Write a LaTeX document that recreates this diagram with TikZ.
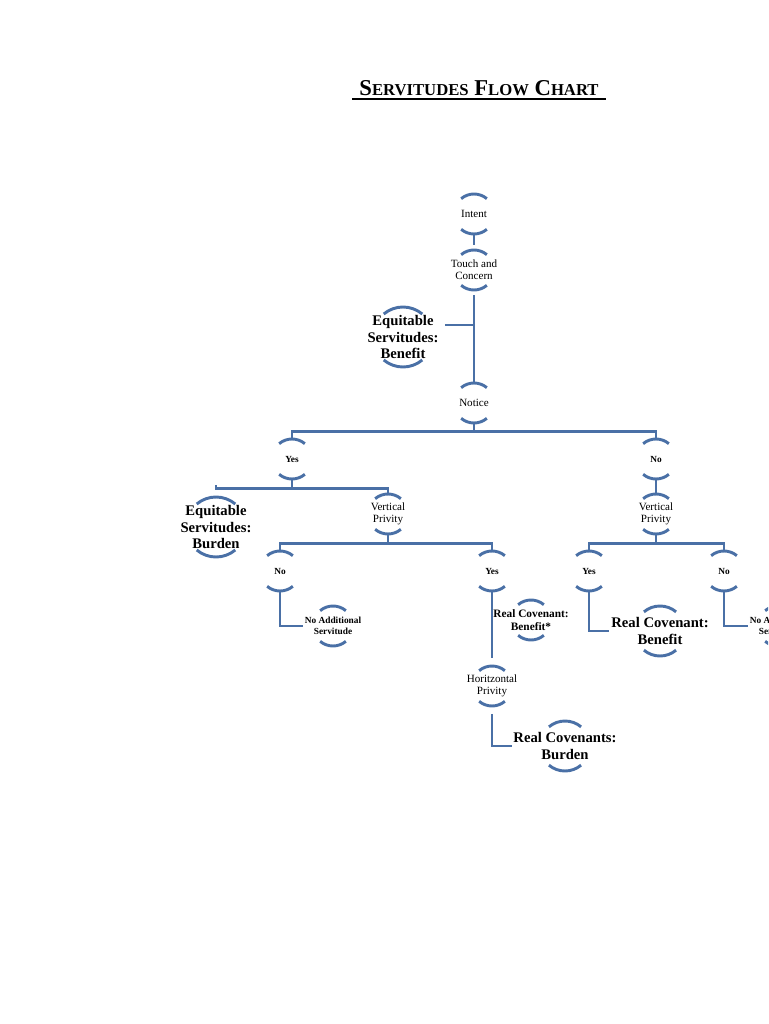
\documentclass[tikz,border=0pt]{standalone}
\usepackage{fontspec}
\setmainfont{Liberation Serif}
\definecolor{ln}{RGB}{74,112,166}
\newcommand{\arcnode}[5]{%
  \node[circle,minimum size=#3*2*0.75pt,inner sep=0pt,align=center,font=#5] (#1) at (#2) {#4};
  \draw[arcline] ($(#1.center)+(130:#3)$) arc[start angle=130,end angle=50,radius=#3];
  \draw[arcline] ($(#1.center)+(230:#3)$) arc[start angle=230,end angle=310,radius=#3];}
\usetikzlibrary{calc}
\begin{document}
\begin{tikzpicture}[x=0.75pt,y=-0.75pt,
  arcline/.style={draw=ln,line width=2.2pt},
  conn/.style={draw=ln,line width=2.2pt}]
\useasboundingbox (0,0) rectangle (768,1024);
\clip (0,0) rectangle (768,1024);
\def\sfont{\fontsize{8.3}{9.3}\selectfont}
\def\bfont{\fontsize{11}{12.5}\selectfont\bfseries}
\def\tfont{\fontsize{7}{8}\selectfont\bfseries}
\node[font=\bfseries\fontsize{17}{19}\selectfont] (title) at (479,88) {S{\fontsize{12.5}{14}\selectfont ERVITUDES} F{\fontsize{12.5}{14}\selectfont LOW} C{\fontsize{12.5}{14}\selectfont HART}};
\draw[line width=1pt] (352,99) -- (606,99);
\arcnode{intent}{474,214}{20}{Intent}{\sfont}
\arcnode{touch}{474,270}{20}{Touch and\\Concern}{\sfont}
\arcnode{eqben}{403,337}{30}{Equitable\\Servitudes:\\Benefit}{\bfont}
\arcnode{notice}{474,403}{20}{Notice}{\sfont}
\arcnode{yes1}{292,459}{20}{Yes}{\tfont}
\arcnode{no1}{656,459}{20}{No}{\tfont}
\arcnode{eqbur}{216,527}{30}{Equitable\\Servitudes:\\Burden}{\bfont}
\arcnode{vp1}{388,514}{20}{Vertical\\Privity}{\sfont}
\arcnode{vp2}{656,514}{20}{Vertical\\Privity}{\sfont}
\arcnode{no2}{280,571}{20}{No}{\tfont}
\arcnode{yes2}{492,571}{20}{Yes}{\tfont}
\arcnode{yes3}{589,571}{20}{Yes}{\tfont}
\arcnode{no3}{724,571}{20}{No}{\tfont}
\arcnode{noadd}{333,626}{20}{No Additional\\Servitude}{\tfont}
\arcnode{rcbs}{531,620}{20}{Real Covenant:\\Benefit*}{\fontsize{8.5}{9.5}\selectfont\bfseries}
\arcnode{hp}{492,686}{20}{Horitzontal\\Privity}{\sfont}
\arcnode{rcbur}{565,746}{25}{Real Covenants:\\Burden}{\bfont}
\arcnode{rcben}{660,631}{25}{Real Covenant:\\Benefit}{\bfont}
\arcnode{noadd2}{778,626}{20}{No Additional\\Servitude}{\tfont}
\draw[conn] (intent.south) -- (touch.north);
\draw[conn] (touch.south) -- (notice.north);
\draw[conn] (eqben.east |- 474,325) -- (474,325);
\draw[conn] (notice.south) -- ++(0,8) coordinate (c1);
\draw[conn] (c1) -| (yes1.north);
\draw[conn] (c1) -| (no1.north);
\draw[conn] (yes1.south) -- ++(0,9) coordinate (c2);
\draw[conn] (c2) -| (eqbur.north);
\draw[conn] (c2) -| (vp1.north);
\draw[conn] (no1.south) -- (vp2.north);
\draw[conn] (vp1.south) -- ++(0,9) coordinate (c3);
\draw[conn] (c3) -| (no2.north);
\draw[conn] (c3) -| (yes2.north);
\draw[conn] (vp2.south) -- ++(0,9) coordinate (c4);
\draw[conn] (c4) -| (yes3.north);
\draw[conn] (c4) -| (no3.north);
\draw[conn] (no2.south) |- (noadd.west);
\draw[conn] (yes2.south) -- (hp.north);
\draw[conn] (492,609) -- (rcbs.west |- 492,609);
\draw[conn] (hp.south) |- (rcbur.west);
\draw[conn] (yes3.south) |- (rcben.west);
\draw[conn] (no3.south) |- (noadd2.west);
\end{tikzpicture}
\end{document}
